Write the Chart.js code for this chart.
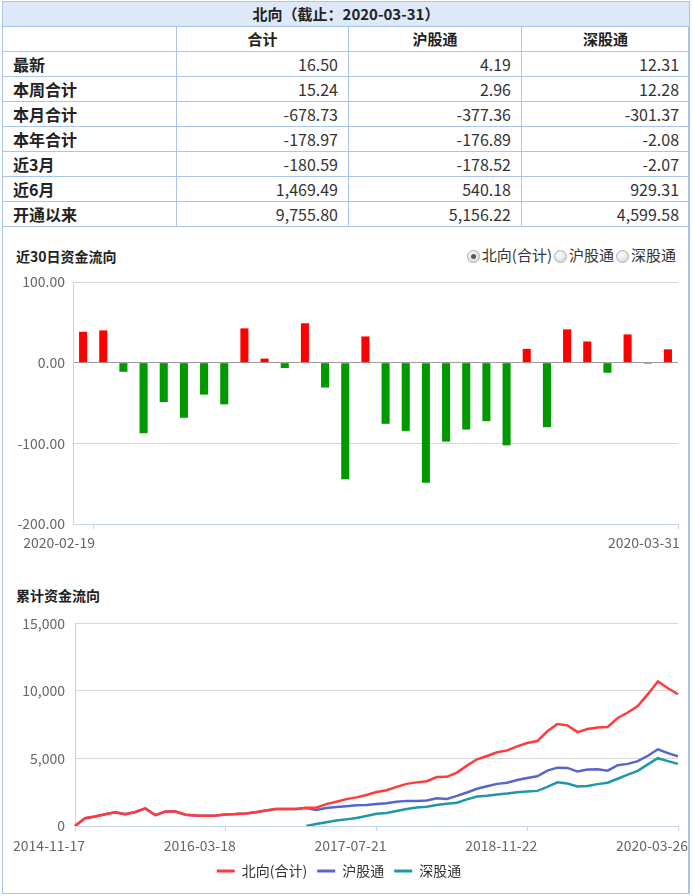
<!DOCTYPE html>
<html><head><meta charset="utf-8">
<script src="https://cdn.jsdelivr.net/npm/chart.js@4.4.1/dist/chart.umd.min.js"></script>
<style>
html,body{margin:0;padding:0;background:#fff;}
body{width:693px;height:896px;position:relative;overflow:hidden;font-family:"Noto Sans CJK SC","Microsoft YaHei",sans-serif;color:#333;}
#box{position:absolute;left:2px;top:1px;width:685px;height:891px;border:1px solid #a9c5ef;border-right-width:2px;}
table{position:absolute;left:2px;top:1px;width:687px;border-collapse:collapse;table-layout:fixed;font-size:16px;}
td{border:1px solid #a9c5ef;height:24px;padding:0 10px;line-height:24px;white-space:nowrap;}
tr.title td{background:#dde8f9;text-align:center;font-weight:bold;color:#222;font-size:15px;}
tr.head td{text-align:center;font-weight:bold;color:#222;font-size:15px;}
td.lab{font-weight:bold;color:#222;}
td.num{text-align:right;}
.sect{position:absolute;left:16px;font-size:14px;font-weight:bold;color:#222;line-height:20px;}
#radios{position:absolute;right:17px;top:245px;font-size:15px;line-height:20px;color:#333;}
.rb{display:inline-block;width:13px;height:13px;border-radius:50%;border:1px solid #b0b0b0;background:radial-gradient(circle at 40% 35%,#ffffff,#d0d0d0);vertical-align:-2px;margin:0 2px 0 2px;position:relative;box-sizing:border-box;}
.rb.on::after{content:"";position:absolute;left:3px;top:3px;width:5px;height:5px;border-radius:50%;background:#555;}
canvas{position:absolute;left:0;}
#bar{top:265px;}
#line{top:605px;}
</style>
</head><body>
<div id="box"></div>
<table>
<colgroup><col style="width:174px"><col style="width:172px"><col style="width:173px"><col style="width:168px"></colgroup>
<tbody id="tb"></tbody>
</table>
<div class="sect" style="top:246px">近30日资金流向</div>
<div id="radios"><span class="rb on"></span>北向(合计)<span class="rb"></span>沪股通<span class="rb"></span>深股通</div>
<canvas id="bar" width="693" height="290"></canvas>
<div class="sect" style="top:585px">累计资金流向</div>
<canvas id="line" width="693" height="283"></canvas>
<script>
// ---- table data ----
const tableTitle = "北向（截止：2020-03-31）";
const tableColumns = ["合计", "沪股通", "深股通"];
const tableRows = ["最新", "本周合计", "本月合计", "本年合计", "近3月", "近6月", "开通以来"];
const totalCol = ["16.50", "15.24", "-678.73", "-178.97", "-180.59", "1,469.49", "9,755.80"];
const shCol = ["4.19", "2.96", "-377.36", "-176.89", "-178.52", "540.18", "5,156.22"];
const szCol = ["12.31", "12.28", "-301.37", "-2.08", "-2.07", "929.31", "4,599.58"];

// ---- 30-day flow ----
const barDates = ["2020-02-19","2020-02-20","2020-02-21","2020-02-24","2020-02-25","2020-02-26","2020-02-27","2020-02-28",
  "2020-03-02","2020-03-03","2020-03-04","2020-03-05","2020-03-06","2020-03-09","2020-03-10","2020-03-11","2020-03-12","2020-03-13",
  "2020-03-16","2020-03-17","2020-03-18","2020-03-19","2020-03-20","2020-03-23","2020-03-24","2020-03-25","2020-03-26","2020-03-27",
  "2020-03-30","2020-03-31"];
const netFlow = [38.3, 40.0, -11.3, -87.5, -48.8, -68.3, -39.6, -51.7, 42.5, 5.0, -6.7, 48.8, -30.8, -144.6, 32.5,
  -75.8, -84.6, -149.0, -97.9, -82.9, -72.5, -102.5, 17.1, -80.0, 41.3, 26.3, -12.5, 35.0, -1.26, 16.5];
const barTickLabels = ["2020-02-19", "2020-03-31"];

// ---- cumulative flow (sampled along the time axis) ----
const lineTickLabels = ["2014-11-17", "2016-03-18", "2017-07-21", "2018-11-22", "2020-03-26"];
const northTotal = [0,580,700,870,1020,880,1040,1300,800,1070,1070,830,780,750,780,860,880,920,1020,1140,1260,1260,1260,
  1360,1360,1620,1800,1990,2120,2300,2520,2650,2900,3120,3230,3320,3620,3640,3950,4470,4940,5180,5460,5600,5900,6140,6290,
  7010,7550,7450,6950,7180,7300,7330,8000,8400,8880,9760,10700,10200,9756];
const shConnect = [0,580,700,870,1020,880,1040,1300,800,1070,1070,830,780,750,780,860,880,920,1020,1140,1260,1260,1260,
  1340,1190,1340,1400,1460,1530,1560,1620,1680,1790,1860,1860,1890,2060,2000,2230,2480,2760,2940,3120,3200,3400,3560,3680,
  4100,4320,4300,4030,4180,4200,4100,4500,4600,4800,5200,5680,5400,5156];
const szConnect = [null,null,null,null,null,null,null,null,null,null,null,null,null,null,null,null,null,null,null,null,null,null,null,
  10,150,280,400,490,590,740,900,970,1110,1260,1370,1430,1560,1640,1720,1970,2180,2240,2340,2400,2500,2550,2600,
  2890,3230,3150,2920,2960,3100,3200,3500,3800,4080,4560,5020,4800,4600];
const seriesNames = ["北向(合计)", "沪股通", "深股通"];

// build table
const tb = document.getElementById('tb');
let html = '<tr class="title"><td colspan="4">' + tableTitle + '</td></tr>';
html += '<tr class="head"><td></td>' + tableColumns.map(c => '<td>' + c + '</td>').join('') + '</tr>';
tableRows.forEach((r, i) => {
  html += '<tr><td class="lab">' + r + '</td><td class="num">' + totalCol[i] + '</td><td class="num">' + shCol[i] + '</td><td class="num">' + szCol[i] + '</td></tr>';
});
tb.innerHTML = html;

const FONT = '"Noto Sans CJK SC", "Microsoft YaHei", sans-serif';
Chart.defaults.font.family = FONT;
Chart.defaults.animation = false;
const AXIS = '#c4d4ea', GRID = '#d6d6d6', TICKC = '#666';

new Chart(document.getElementById('bar'), {
  type: 'bar',
  data: { labels: barDates, datasets: [{
    data: netFlow,
    backgroundColor: ctx => (ctx.raw >= 0 ? '#ff0000' : '#009900'),
    borderWidth: 0, barPercentage: 0.4, categoryPercentage: 1.0
  }]},
  options: {
    responsive: false, devicePixelRatio: 1,
    layout: { padding: { left: 0, right: 15, top: 17, bottom: 0 } },
    plugins: { legend: { display: false }, tooltip: { enabled: false } },
    scales: {
      x: {
        afterFit: s => { s.height = 31; s.paddingLeft = 0; s.paddingRight = 0; },
        border: { color: AXIS },
        grid: { drawOnChartArea: false, drawTicks: true, tickLength: 5,
          color: ctx => (ctx.index === 1 || ctx.index === undefined) ? AXIS : 'rgba(0,0,0,0)' },
        ticks: { autoSkip: false, maxRotation: 0, minRotation: 0, labelOffset: -24, padding: 5,
          color: TICKC, font: { size: 14 },
          callback: (v, i) => i === 0 ? barTickLabels[0] : (i === barDates.length - 1 ? barTickLabels[1] : '') }
      },
      y: {
        min: -200, max: 100,
        afterFit: s => { s.width = 73; },
        border: { color: AXIS },
        grid: { drawTicks: false,
          color: ctx => ctx.tick && ctx.tick.value === 0 ? '#9c9c9c' : (ctx.tick && ctx.tick.value === -200 ? AXIS : GRID) },
        ticks: { stepSize: 100, padding: 8, color: TICKC, font: { size: 14 }, callback: v => v.toFixed(2) }
      }
    }
  }
});

const lineLabels = northTotal.map((_, i) => String(i));
const step = (northTotal.length - 1) / (lineTickLabels.length - 1);
new Chart(document.getElementById('line'), {
  type: 'line',
  data: { labels: lineLabels, datasets: [
    { label: seriesNames[0], data: northTotal, borderColor: '#ff3b3b', backgroundColor: '#ff3b3b' },
    { label: seriesNames[1], data: shConnect, borderColor: '#5866c9', backgroundColor: '#5866c9' },
    { label: seriesNames[2], data: szConnect, borderColor: '#1d98a6', backgroundColor: '#1d98a6' }
  ]},
  options: {
    responsive: false, devicePixelRatio: 1,
    layout: { padding: { left: 0, right: 15, top: 16, bottom: 0 } },
    elements: { line: { borderWidth: 2.5, tension: 0 }, point: { radius: 0 } },
    plugins: {
      tooltip: { enabled: false },
      legend: { position: 'bottom',
        labels: { boxWidth: 18, boxHeight: 3, padding: 10, color: '#333', font: { size: 14 },
          generateLabels: chart => Chart.defaults.plugins.legend.labels.generateLabels(chart).map(it => Object.assign(it, { lineWidth: 0 })) } }
    },
    scales: {
      x: {
        afterFit: s => { s.height = 28; s.paddingLeft = 0; s.paddingRight = 0; },
        border: { color: AXIS },
        grid: { drawOnChartArea: false, drawTicks: true, tickLength: 5,
          color: ctx => (ctx.index !== undefined && ctx.index % step === 0) ? AXIS : 'rgba(0,0,0,0)' },
        ticks: { autoSkip: false, maxRotation: 0, minRotation: 0, labelOffset: -26, padding: 6,
          color: TICKC, font: { size: 14 },
          callback: (v, i) => (i % step === 0 ? lineTickLabels[i / step] : '') }
      },
      y: {
        min: 0, max: 15000,
        afterFit: s => { s.width = 75; },
        border: { color: AXIS },
        grid: { drawTicks: false, color: ctx => ctx.tick && ctx.tick.value === 0 ? AXIS : GRID },
        ticks: { stepSize: 5000, padding: 10, color: TICKC, font: { size: 14 }, callback: v => v.toLocaleString('en-US') }
      }
    }
  }
});
</script>
</body></html>
